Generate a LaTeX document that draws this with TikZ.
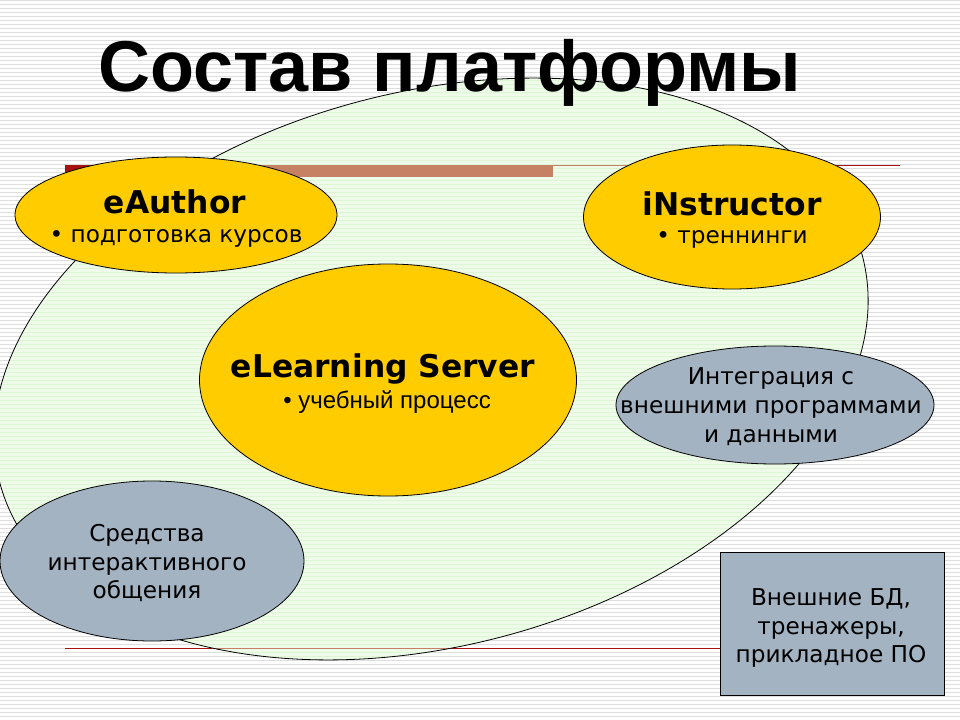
\documentclass[tikz,border=0pt]{standalone}
\usepackage{fontspec}
\setmainfont{Liberation Sans}
\newfontfamily\vfont{DejaVu Sans}
\usetikzlibrary{shapes.geometric}
\definecolor{gold}{HTML}{FFCC00}
\definecolor{slate}{HTML}{A3B3C2}
\definecolor{pale}{HTML}{EEFBE9}
\definecolor{palestripe}{HTML}{DDF6D4}
\definecolor{stripe}{HTML}{DEDEDE}
\definecolor{dred}{HTML}{A81212}
\definecolor{bar}{HTML}{C68063}
\tikzset{
  oval/.style={draw=black,line width=0.6pt,ellipse,inner sep=0pt},
  lbl/.style={align=center,font=\vfont\fontsize{17.4}{21.7}\selectfont,text=black},
  big/.style={font=\vfont\fontsize{23.5}{27}\selectfont\bfseries,text=black},
  sub/.style={font=\vfont\fontsize{17.4}{20}\selectfont,text=black}
}
\begin{document}
\begin{tikzpicture}[x=0.75pt,y=-0.75pt]
\useasboundingbox (0,0) rectangle (960,720);
\fill[white] (0,0) rectangle (960,720);
\foreach \y in {0,4,...,716} {\fill[stripe] (0,\y) rectangle (960,\y+1.4);}
\draw[dred,line width=0.6pt] (65,165) -- (900,165);
\draw[dred,line width=0.6pt] (65,648) -- (760,648);
\fill[dred] (65,165) rectangle (553,177);
\fill[pale] (431,369) ellipse[x radius=446,y radius=277,rotate=14.7];
\begin{scope}
\clip (431,369) ellipse[x radius=446,y radius=277,rotate=14.7];
\foreach \y in {0,4,...,716} {\fill[palestripe] (0,\y) rectangle (960,\y+1.4);}
\fill[bar] (65,165) rectangle (553,177);
\draw[bar,line width=0.6pt] (65,165) -- (900,165);
\draw[bar,line width=0.6pt] (65,648) -- (760,648);
\end{scope}
\draw[black,line width=0.6pt] (431,369) ellipse[x radius=446,y radius=277,rotate=14.7];
\node[font=\fontsize{54}{60}\selectfont\bfseries,anchor=base west,text=black,inner sep=0pt] (title) at (98,92) {Состав платформы};
\node[oval,fill=gold,minimum width=241.5pt,minimum height=87pt] (author) at (176,215) {};
\node[big] (authorT) at (175,202) {eAuthor};
\node[sub] (authorS) at (176,238) {• подготовка курсов};
\node[oval,fill=gold,minimum width=222.75pt,minimum height=108pt] (instr) at (732,217) {};
\node[big] (instrT) at (732,204) {iNstructor};
\node[sub] (instrS) at (732,239) {• треннинги};
\node[oval,fill=gold,minimum width=282.75pt,minimum height=174pt] (server) at (388,380) {};
\node[big] (serverT) at (383,369) {eLearning Server};
\node[font=\fontsize{18}{20}\selectfont,text=black] (serverS) at (387,402) {• учебный процесс};
\node[oval,fill=slate,minimum width=238.5pt,minimum height=88.5pt] (integ) at (775,405) {};
\node[lbl] (integT) at (771,407) {Интеграция с\\внешними программами\\и данными};
\node[oval,fill=slate,minimum width=228pt,minimum height=120pt] (media) at (152,561) {};
\node[lbl] (mediaT) at (147,563) {Средства\\интерактивного\\общения};
\node[draw=black,fill=slate,line width=0.6pt,minimum width=168pt,minimum height=107pt,inner sep=0pt] (ext) at (832,624) {};
\node[lbl] (extT) at (831,628) {Внешние БД,\\тренажеры,\\прикладное ПО};
\end{tikzpicture}
\end{document}
